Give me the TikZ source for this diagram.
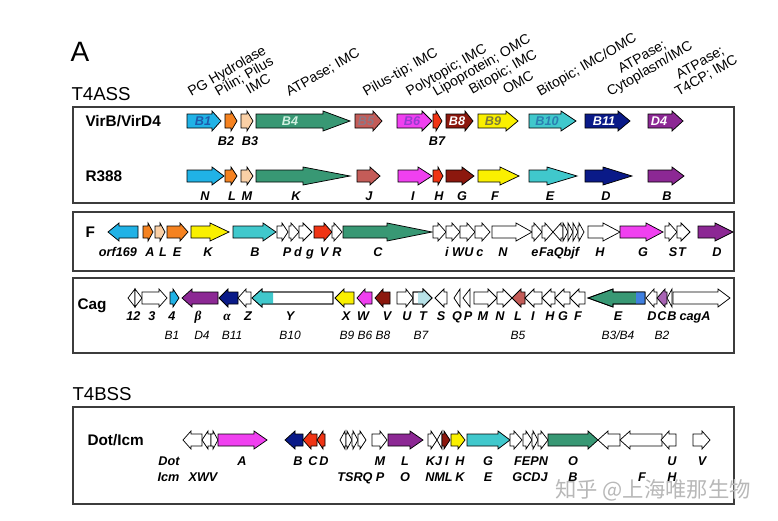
\documentclass[tikz,border=0pt]{standalone}
\usepackage{fontspec}
\setmainfont{Liberation Sans}
\newfontfamily\grkfont{Liberation Serif}
\newfontfamily\cjkfont{Noto Sans CJK SC}

\definecolor{gcyan}{RGB}{32,178,230}
\definecolor{gorange}{RGB}{245,130,32}
\definecolor{gpeach}{RGB}{250,208,166}
\definecolor{ggreen}{RGB}{56,152,116}
\definecolor{gbrick}{RGB}{196,92,88}
\definecolor{gmagenta}{RGB}{240,64,240}
\definecolor{gred}{RGB}{240,52,20}
\definecolor{gdarkred}{RGB}{140,24,14}
\definecolor{gyellow}{RGB}{250,240,0}
\definecolor{gturq}{RGB}{64,200,204}
\definecolor{gnavy}{RGB}{10,26,136}
\definecolor{gpurple}{RGB}{140,40,148}
\definecolor{gmauve}{RGB}{168,100,180}
\definecolor{gblue}{RGB}{64,128,224}
\definecolor{gpale}{RGB}{184,226,232}
\definecolor{panelgray}{RGB}{60,60,60}

\tikzset{every picture/.style={line width=0.75pt}}
\tikzset{
  genebody/.style={draw=black, line width=0.55pt, line join=miter},
  panel/.style={draw=panelgray, line width=0.9pt},
  sysname/.style={font=\fontsize{14}{16}\selectfont, anchor=base west, inner sep=0pt},
  rowname/.style={font=\bfseries\fontsize{11.5}{13}\selectfont, anchor=base west, inner sep=0pt},
  genelbl/.style={font=\bfseries\itshape\fontsize{9.5}{11}\selectfont, anchor=base, inner sep=0pt},
  homlbl/.style={font=\itshape\fontsize{9}{11}\selectfont, anchor=base, inner sep=0pt},
  funclbl/.style={font=\fontsize{10.5}{12}\selectfont, rotate=30, anchor=base west, inner sep=0pt},
}

% gene arrow: fill, tail x, tip x, y, head length
\newcommand{\gbh}{6}
\newcommand{\ghh}{9}
\newcommand{\gene}[5]{%
  \pgfmathsetmacro{\gxh}{#3-sign(#3-#2)*#5}%
  \draw[genebody, fill=#1] (#2,#4-\gbh) -- (\gxh,#4-\gbh) -- (\gxh,#4-\ghh) -- (#3,#4) -- (\gxh,#4+\ghh) -- (\gxh,#4+\gbh) -- (#2,#4+\gbh) -- cycle;%
}

\begin{document}
\begin{tikzpicture}[x=0.75pt,y=0.75pt,yscale=-1,xscale=1]
\useasboundingbox (0,0) rectangle (778,521);
\fill[white] (0,0) rectangle (778,521);

% Text Node
\node (panelA) at (70,61) [anchor=base west, inner sep=0pt, font=\fontsize{21}{24}\selectfont] {A};
\node (t4ass) at (71,100) [sysname] {T4ASS};
\node (t4bss) at (72,400) [sysname] {T4BSS};

%Shape: panels
\draw[panel] (73,107) rectangle (734,203);
\draw[panel] (73,212) rectangle (734,271);
\draw[panel] (73,278) rectangle (734,353);
\draw[panel] (73,407) rectangle (734,504);

% function labels
\node (fnB1) at (191,97) [funclbl] {PG Hydrolase};
\node (fnB2) at (218,97) [funclbl] {Pilin; Pilus};
\node (fnB3) at (249,95) [funclbl] {IMC};
\node (fnB4) at (289,97) [funclbl] {ATPase; IMC};
\node (fnB5) at (366,97) [funclbl] {Pilus-tip; IMC};
\node (fnB6) at (409,97) [funclbl] {Polytopic; IMC};
\node (fnB7) at (436,97) [funclbl] {Lipoprotein; OMC};
\node (fnB8) at (472,95) [funclbl] {Bitopic; IMC};
\node (fnB9) at (506,95) [funclbl] {OMC};
\node (fnB10) at (540,97) [funclbl] {Bitopic; IMC/OMC};
\node (fnB11a) at (621,74) [funclbl] {ATPase;};
\node (fnB11b) at (610,97) [funclbl] {Cytoplasm/IMC};
\node (fnD4a) at (679,80) [funclbl] {ATPase;};
\node (fnD4b) at (678,97) [funclbl] {T4CP; IMC};

%VirB/VirD4 row
\node (virb) at (85,126.5) [rowname] {VirB/VirD4};
\begin{scope}
\renewcommand{\gbh}{7}\renewcommand{\ghh}{10}
\foreach \c/\a/\b/\h in {gcyan/187/221/9, gorange/225/237/6, gpeach/241/253/6, ggreen/256/350/27,
  gbrick/355/382/9, gmagenta/397/432/10, gred/433/442/6, gdarkred/446/473/8,
  gyellow/478/518/12, gturq/529/576/15, gnavy/585/630/12, gpurple/648/683/11}
  {\gene{\c}{\a}{\b}{121}{\h}}
\end{scope}
\node (vbB1) at (203,125.5) [genelbl, text={rgb,255:red,30;green,90;blue,170}] {B1};
\node (vbB4) at (290,125.5) [genelbl, text={rgb,255:red,210;green,240;blue,225}] {B4};
\node (vbB5) at (366,125.5) [genelbl, text={rgb,255:red,140;green,120;blue,134}] {B5};
\node (vbB6) at (412,125.5) [genelbl, text={rgb,255:red,150;green,60;blue,208}] {B6};
\node (vbB8) at (457,125.5) [genelbl, text=white] {B8};
\node (vbB9) at (493,125.5) [genelbl, text={rgb,255:red,124;green,122;blue,58}] {B9};
\node (vbB10) at (547,125.5) [genelbl, text={rgb,255:red,43;green,127;blue,176}] {B10};
\node (vbB11) at (604,125.5) [genelbl, text=white] {B11};
\node (vbD4) at (659,125.5) [genelbl, text=white] {D4};
\foreach \t/\x in {B2/226, B3/250, B7/437}
  \node (vb-\t) at (\x,145) [genelbl] {\t};

%R388 row
\node (r388) at (85,181.5) [rowname] {R388};
\foreach \c/\a/\b/\h in {gcyan/187/224/12, gorange/225/237/6, gpeach/241/253/6, ggreen/256/350/47,
  gbrick/357/380/10, gmagenta/398/432/14, gred/433/443/5, gdarkred/446/474/12,
  gyellow/478/519/19, gturq/529/577/30, gnavy/585/632/29, gpurple/648/684/12}
  {\gene{\c}{\a}{\b}{176}{\h}}
\foreach \t/\x in {N/205, L/232, M/247, K/296, J/369, I/413, H/439, G/462, F/495, E/550, D/606, B/667}
  \node (r-\t) at (\x,200) [genelbl] {\t};

%F row
\node (frow) at (85,237) [rowname] {F};
\foreach \c/\a/\b/\h in {gcyan/138/108/11, gorange/143/153/5, gpeach/155/165/5, gorange/167/188/8,
  gyellow/191/229/19, gturq/233/276/13, white/277/288/6, white/289/299/8, white/299/312/9,
  gred/314/332/8, white/332/342/8, ggreen/343/432/45, white/433/446/8, white/446/460/8,
  white/460/475/8, white/475/490/8, white/492/532/16, white/532/542/8, white/542/553/8,
  white/563/553/8, white/563/568/5, white/568/573/5, white/573/578/5, white/578/584/5,
  white/588/620/17, gmagenta/620/663/17, white/665/677/8, white/677/690/9, gpurple/698/733/18}
  {\gene{\c}{\a}{\b}{232}{\h}}
\foreach \t/\x in {orf169/118, A/150, L/163, E/177, K/208, B/255, P/287, d/298, g/310, V/324, R/337,
  C/378, i/447, W/458, U/469, c/480, N/503, e/535, F/543, aQbjf/563, H/600, G/643, S/673, T/682, D/717}
  \node (f-\t) at (\x,256) [genelbl] {\t};

%Cag row
\node (cag) at (77,309) [rowname] {Cag};
\foreach \c/\a/\b/\h in {white/135/128/7, white/135/142/7, white/142/167/8, gcyan/170/179/6,
  gpurple/218/182/10, gnavy/238/219/9, white/251/238/8, white/333/252/10,
  gyellow/354/335/9, gmagenta/372/357/8, gdarkred/390/375/8, white/397/413/7,
  white/413/432/9, white/447/435/9, white/460/454/6, white/470/463/7, white/474/497/9,
  white/497/512/9, gbrick/525/512/9, white/542/525/9, white/555/542/9, white/570/555/9,
  white/585/570/9, ggreen/645/588/25, white/657/646/8, gmauve/667/657/8, white/672/667/5,
  white/673/730/12}
  {\gene{\c}{\a}{\b}{298}{\h}}
% two-tone genes
\fill[gturq] (273,292) -- (262,292) -- (262,289) -- (252,298) -- (262,307) -- (262,304) -- (273,304) -- cycle;
\gene{none}{333}{252}{298}{10}
\fill[gpale] (418,292) -- (423,292) -- (423,289) -- (432,298) -- (423,307) -- (423,304) -- (418,304) -- cycle;
\gene{none}{413}{432}{298}{9}
\fill[gblue] (636,292) rectangle (645,304);
\gene{none}{645}{588}{298}{25}
\foreach \t/\x in {1/130, 2/137, 3/152, 4/172, Z/248, Y/290, X/346, W/363, V/387, U/407, T/423,
  S/441, Q/457, P/468, M/483, N/500, L/518, I/533, H/550, G/563, F/578, E/618, D/652, C/662, B/672, cagA/695}
  \node (cg-\t) at (\x,320) [genelbl] {\t};
\node (cg-beta) at (198,320) [genelbl, font=\grkfont\bfseries\itshape\fontsize{10}{11}\selectfont] {β};
\node (cg-alpha) at (227,320) [genelbl, font=\grkfont\bfseries\itshape\fontsize{10}{11}\selectfont] {α};
\foreach \t/\x in {B1/172, D4/202, B11/232, B10/290, B9/347, B6/365, B8/383, B7/421, B5/518, B2/662}
  \node (hm-\t) at (\x,339) [homlbl] {\t};
\node (hm-B34) at (618,339) [homlbl] {B3/B4};

%Dot/Icm row
\node (doticm) at (87,445) [rowname] {Dot/Icm};
\foreach \c/\a/\b/\h in {white/202/183/8, white/211/202/6, white/211/218/5, gmagenta/218/267/13,
  gnavy/303/285/10, gred/317/303/8, gred/325/317/6, white/346/340/5, white/346/352/5,
  white/352/358/5, white/358/366/6, white/372/387/7, gpurple/388/423/13, white/428/437/6,
  white/442/437/5, gdarkred/442/450/6, gyellow/451/465/7, gturq/467/510/12, white/510/522/8,
  white/523/532/6, white/532/538/5, white/538/548/7, ggreen/548/598/10, white/620/598/10,
  white/662/620/10, white/676/661/8, white/693/710/8}
  {\gene{\c}{\a}{\b}{440}{\h}}
\node (dot) at (180,465) [genelbl, anchor=base east] {Dot};
\node (icm) at (180,481) [genelbl, anchor=base east] {Icm};
\foreach \t/\x in {A/242, B/298, C/313, D/324, M/380, L/405, KJ/434, I/447, H/460, G/488, FEPN/531, O/573, U/672, V/702}
  \node (dt-\t) at (\x,465) [genelbl] {\t};
\foreach \t/\x in {XWV/203, TSRQ/355, P/380, O/405, NML/439, K/460, E/488, GCDJ/530, B/573, F/642, H/672}
  \node (ic-\t) at (\x,481) [genelbl] {\t};

% watermark
\node (wmark) at (653,490) [font=\cjkfont\fontsize{16}{18}\selectfont, text=black!28] {知乎 @上海唯那生物};

\end{tikzpicture}
\end{document}
